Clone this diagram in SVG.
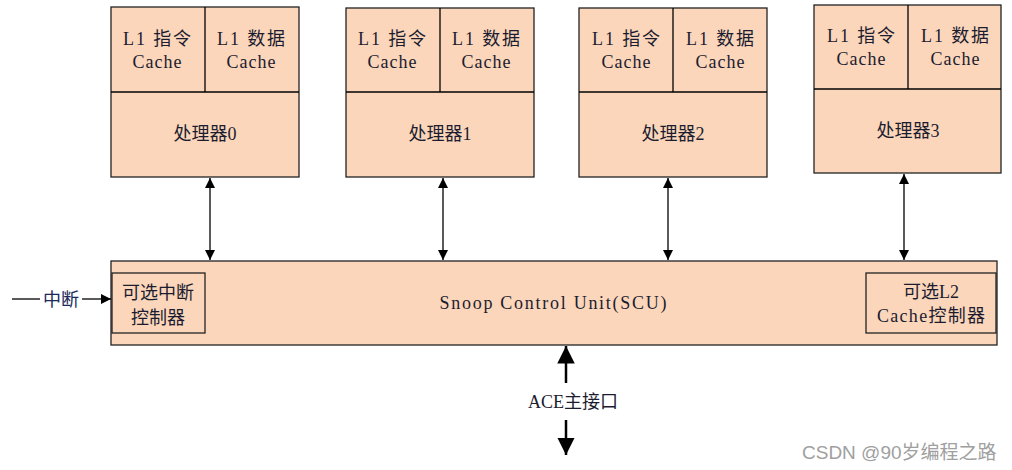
<svg xmlns="http://www.w3.org/2000/svg" width="1012" height="470" viewBox="0 0 1012 470">
<defs>
<marker id="ah" viewBox="0 0 10 10" refX="10" refY="5" markerWidth="10" markerHeight="10" markerUnits="userSpaceOnUse" orient="auto-start-reverse"><path d="M0,0 L10,5 L0,10 z" fill="#000"/></marker>
<marker id="ah2" viewBox="0 0 10 10" refX="10" refY="5" markerWidth="7" markerHeight="7" orient="auto-start-reverse"><path d="M0,0 L10,5 L0,10 z" fill="#000"/></marker>
</defs>
<style>
.box{fill:#FBD6BA;stroke:#222;stroke-width:1.3}
.t{font-family:"Liberation Serif","Noto Sans CJK SC",serif;font-size:18px;fill:#1c1c30;text-anchor:middle}
.ln{stroke:#000;stroke-width:1.3;fill:none}
.wm{font-family:"Liberation Sans","Noto Sans CJK SC",sans-serif;font-size:19px;fill:#a0a0a0}
</style>
<rect width="1012" height="470" fill="#fff"/>
<g id="cpu0">
<rect class="box" x="111" y="7" width="188" height="170"/>
<line class="ln" x1="111" y1="92" x2="299" y2="92"/>
<line class="ln" x1="205" y1="7" x2="205" y2="92"/>
<text class="t" x="157" y="45" textLength="68" lengthAdjust="spacing">L1 指令</text><text class="t" x="157" y="68" textLength="49" lengthAdjust="spacing">Cache</text>
<text class="t" x="251" y="45" textLength="68" lengthAdjust="spacing">L1 数据</text><text class="t" x="251" y="68" textLength="49" lengthAdjust="spacing">Cache</text>
<text class="t" x="205" y="140">处理器0</text>
</g>
<g id="cpu1">
<rect class="box" x="346" y="8" width="188" height="169"/>
<line class="ln" x1="346" y1="92" x2="534" y2="92"/>
<line class="ln" x1="440" y1="8" x2="440" y2="92"/>
<text class="t" x="392" y="45" textLength="68" lengthAdjust="spacing">L1 指令</text><text class="t" x="392" y="68" textLength="49" lengthAdjust="spacing">Cache</text>
<text class="t" x="486" y="45" textLength="68" lengthAdjust="spacing">L1 数据</text><text class="t" x="486" y="68" textLength="49" lengthAdjust="spacing">Cache</text>
<text class="t" x="440" y="140">处理器1</text>
</g>
<g id="cpu2">
<rect class="box" x="579" y="8" width="188" height="169"/>
<line class="ln" x1="579" y1="92" x2="767" y2="92"/>
<line class="ln" x1="673" y1="8" x2="673" y2="92"/>
<text class="t" x="626" y="45" textLength="68" lengthAdjust="spacing">L1 指令</text><text class="t" x="626" y="68" textLength="49" lengthAdjust="spacing">Cache</text>
<text class="t" x="720" y="45" textLength="68" lengthAdjust="spacing">L1 数据</text><text class="t" x="720" y="68" textLength="49" lengthAdjust="spacing">Cache</text>
<text class="t" x="673" y="140">处理器2</text>
</g>
<g id="cpu3">
<rect class="box" x="814" y="5" width="187" height="168"/>
<line class="ln" x1="814" y1="89" x2="1001" y2="89"/>
<line class="ln" x1="908" y1="5" x2="908" y2="89"/>
<text class="t" x="861" y="42" textLength="68" lengthAdjust="spacing">L1 指令</text><text class="t" x="861" y="65" textLength="49" lengthAdjust="spacing">Cache</text>
<text class="t" x="955" y="42" textLength="68" lengthAdjust="spacing">L1 数据</text><text class="t" x="955" y="65" textLength="49" lengthAdjust="spacing">Cache</text>
<text class="t" x="908" y="137">处理器3</text>
</g>
<g id="scu">
<rect class="box" x="111" y="261" width="886" height="84"/>
<text class="t" x="553" y="309" textLength="227" lengthAdjust="spacing">Snoop Control Unit(SCU)</text>
</g>
<g id="irq">
<rect class="box" x="112" y="273" width="93" height="60"/>
<text class="t" x="158" y="299">可选中断</text>
<text class="t" x="158" y="324">控制器</text>
</g>
<g id="l2">
<rect class="box" x="866" y="273" width="130" height="60"/>
<text class="t" x="931" y="298">可选L2</text>
<text class="t" x="931" y="322" textLength="108" lengthAdjust="spacing">Cache控制器</text>
</g>
<g id="connectors">
<line class="ln" x1="210" y1="178" x2="210" y2="260" marker-start="url(#ah)" marker-end="url(#ah)"/>
<line class="ln" x1="443" y1="178" x2="443" y2="260" marker-start="url(#ah)" marker-end="url(#ah)"/>
<line class="ln" x1="668" y1="178" x2="668" y2="260" marker-start="url(#ah)" marker-end="url(#ah)"/>
<line class="ln" x1="904" y1="174" x2="904" y2="260" marker-start="url(#ah)" marker-end="url(#ah)"/>
<line class="ln" x1="12" y1="299" x2="40" y2="299"/>
<line class="ln" x1="82" y1="299" x2="111" y2="299" marker-end="url(#ah)"/>
<line x1="566" y1="383" x2="566" y2="346" stroke="#000" stroke-width="2.5" marker-end="url(#ah2)"/>
<line x1="566" y1="420" x2="566" y2="455" stroke="#000" stroke-width="2.5" marker-end="url(#ah2)"/>
</g>
<text class="t" x="61" y="306" style="fill:#1a2a5a">中断</text>
<text class="t" x="573" y="408">ACE主接口</text>
<text class="wm" x="802" y="459">CSDN @90岁编程之路</text>
</svg>
